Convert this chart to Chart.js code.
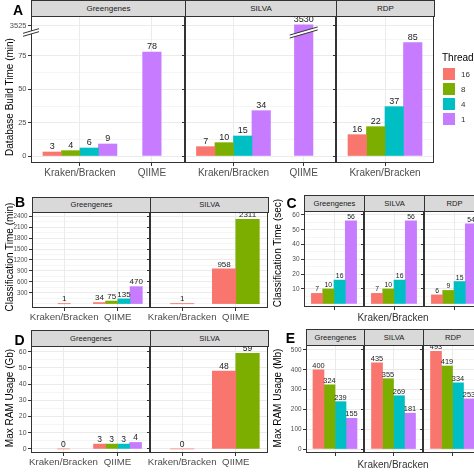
<!DOCTYPE html>
<html>
<head>
<meta charset="utf-8">
<script src="https://cdn.jsdelivr.net/npm/chart.js@4.4.1/dist/chart.umd.min.js"></script>
<style>
body { margin: 0; width: 474px; height: 474px; overflow: hidden; background: #fff; position: relative; font-family: "Liberation Sans", Arial, sans-serif; }
canvas { position: absolute; }
.strip { position: absolute; box-sizing: border-box; border: 1px solid #333; background: #d9d9d9; color: #1a1a1a; text-align: center; white-space: nowrap; overflow: hidden; }
.tag { position: absolute; font-weight: bold; font-size: 14px; transform: translate(-50%, -50%); }
.ytitle { position: absolute; font-size: 10px; white-space: nowrap; transform: translate(-50%, -50%) rotate(-90deg); }
.xtitle { position: absolute; font-size: 10px; color: #333; white-space: nowrap; transform: translate(-50%, -50%); }
.key { position: absolute; width: 12px; height: 12px; }
.keytxt { position: absolute; font-size: 8px; color: #333; transform: translateY(-50%); }
</style>
</head>
<body>
<script>
//<---------------- data ---------------->
const threads = ['16', '8', '4', '1'];
const threadColors = ['#F8766D', '#7CAE00', '#00BFC4', '#C77CFF'];
const databases = ['Greengenes', 'SILVA', 'RDP'];
const tools = ['Kraken/Bracken', 'QIIME'];

// A - database build time (min); one row per thread (16, 8, 4, 1), columns = tools
const buildGreengenes = [[3, null], [4, null], [6, null], [9, 78]];
const buildSilva = [[7, null], [10, null], [15, null], [34, 3530]];
const buildRdp = [[16], [22], [37], [85]];
const buildTicks = [0, 25, 50, 75, 3525];

// B - classification time (min)
const classMinGreengenes = [[1, 34], [null, 75], [null, 135], [null, 470]];
const classMinSilva = [[1, 958], [null, 2311], [null, null], [null, null]];
const classMinTicks = [300, 600, 900, 1200, 1500, 1800, 2100, 2400];

// C - Kraken/Bracken classification time (sec)
const classSecGreengenes = [[7], [10], [16], [56]];
const classSecSilva = [[7], [10], [16], [56]];
const classSecRdp = [[6], [9], [15], [54]];
const classSecTicks = [10, 20, 30, 40, 50, 60];

// D - max RAM usage (Gb)
const ramGbGreengenes = [[0, 3], [null, 3], [null, 3], [null, 4]];
const ramGbSilva = [[0, 48], [null, 59], [null, null], [null, null]];
const ramGbTicks = [0, 10, 20, 30, 40, 50, 60];

// E - Kraken/Bracken max RAM usage (Mb)
const ramMbGreengenes = [[400], [324], [239], [155]];
const ramMbSilva = [[435], [355], [269], [181]];
const ramMbRdp = [[493], [419], [334], [253]];
const ramMbTicks = [0, 100, 200, 300, 400, 500];

Chart.defaults.font.family = '"Liberation Sans", Arial, sans-serif';

//<---------------- y scale with a gap (for the 3530 QIIME bar) ---------------->
class BrokenScale extends Chart.LinearScale {
  getPixelForValue(value, index) {
    if (value !== null && value > 1000) value = 97.8 + (value - 3525) * 0.1;
    return super.getPixelForValue(value, index);
  }
}
BrokenScale.id = 'broken';
BrokenScale.defaults = Chart.LinearScale.defaults;
Chart.register(BrokenScale);

//<---------------- plugins ---------------->
const barLabels = {
  id: 'barLabels',
  afterDatasetsDraw(chart, args, opts) {
    const ctx = chart.ctx;
    ctx.save();
    ctx.font = opts.size + 'px "Liberation Sans", Arial, sans-serif';
    ctx.fillStyle = '#222';
    ctx.textAlign = 'center';
    ctx.textBaseline = 'bottom';
    chart.data.datasets.forEach((ds, i) => {
      chart.getDatasetMeta(i).data.forEach((bar, j) => {
        const v = ds.data[j];
        if (v === null || v === undefined) return;
        ctx.fillText(String(v), bar.x, bar.y - 0.5);
      });
    });
    ctx.restore();
  }
};

const panelBorder = {
  id: 'panelBorder',
  afterDraw(chart) {
    const a = chart.chartArea, ctx = chart.ctx;
    ctx.save();
    ctx.strokeStyle = '#333';
    ctx.lineWidth = 1;
    ctx.strokeRect(Math.round(a.left) + 0.5, Math.round(a.top) + 0.5,
      Math.round(a.right - a.left) - 1, Math.round(a.bottom - a.top) - 1);
    ctx.restore();
  }
};

function breakMark(onBar) {
  return {
    id: 'breakMark',
    afterDraw(chart) {
      const ctx = chart.ctx;
      const y = chart.scales.y.getPixelForValue(91.5);
      let cx, half;
      if (onBar) {
        cx = chart.getDatasetMeta(3).data[1].x;
        half = 14;
      } else {
        cx = chart.chartArea.left;
        half = 8;
      }
      const dy = half * 0.29;
      ctx.save();
      ctx.fillStyle = '#fff';
      ctx.beginPath();
      ctx.moveTo(cx - half, y + dy);
      ctx.lineTo(cx + half, y - dy);
      ctx.lineTo(cx + half, y - dy - 3);
      ctx.lineTo(cx - half, y + dy - 3);
      ctx.closePath();
      ctx.fill();
      ctx.strokeStyle = '#333';
      ctx.lineWidth = 1;
      [0, -3].forEach(o => {
        ctx.beginPath();
        ctx.moveTo(cx - half, y + dy + o);
        ctx.lineTo(cx + half, y - dy + o);
        ctx.stroke();
      });
      ctx.restore();
    }
  };
}

//<---------------- one facet = one chart ---------------->
const padX = 3, padT = 12, xH = 22;

function facet(o) {
  const yW = o.showY ? 30 : 0;
  const cv = document.createElement('canvas');
  cv.width = o.r - o.l + yW + 2 * padX;
  cv.height = o.b - o.t + padT + xH + 2;
  cv.style.left = (o.l - yW - padX) + 'px';
  cv.style.top = (o.t - padT) + 'px';
  document.body.appendChild(cv);

  const minor = [];
  for (let v = 0; v <= o.end; v += o.step) if (!o.major.includes(v)) minor.push(v);
  const yVals = o.major.concat(minor).sort((a, b) => a - b);
  const isMajor = v => o.major.includes(v);

  new Chart(cv, {
    type: 'bar',
    data: {
      labels: o.cats.map((c, i) => i + 1),
      datasets: o.rows.map((row, i) => ({
        label: threads[i],
        data: row,
        backgroundColor: threadColors[i],
        barThickness: o.barW,
        skipNull: true
      }))
    },
    options: {
      responsive: false,
      animation: false,
      layout: { padding: { left: padX, right: padX, top: padT, bottom: 2 } },
      plugins: {
        legend: { display: false },
        tooltip: { enabled: false },
        barLabels: { size: o.labelSize }
      },
      scales: {
        x: {
          type: 'linear', min: o.xmin, max: o.xmax, offset: false,
          afterBuildTicks: s => { s.ticks = o.cats.map((c, i) => ({ value: i + 1 })); },
          afterFit: s => { s.height = xH; s.paddingLeft = 0; s.paddingRight = 0; },
          grid: { offset: false, color: '#ebebeb', lineWidth: 1, tickLength: 3, tickColor: '#333' },
          border: { display: false },
          ticks: {
            display: o.showX, autoSkip: false, maxRotation: 0, minRotation: 0, padding: 1,
            color: '#4d4d4d', font: { size: o.xFont },
            callback: v => o.cats[v - 1]
          }
        },
        y: {
          type: o.yType || 'linear', min: o.min, max: o.max,
          afterBuildTicks: s => { s.ticks = yVals.map(v => ({ value: v })); },
          afterFit: s => { s.width = yW; s.paddingTop = 0; s.paddingBottom = 0; },
          grid: {
            color: '#ebebeb',
            lineWidth: c => (c.tick && !isMajor(c.tick.value)) ? 0.5 : 1,
            drawTicks: o.showY, tickLength: 3,
            tickColor: c => (c.tick && isMajor(c.tick.value)) ? '#333' : 'rgba(0,0,0,0)'
          },
          border: { display: false },
          ticks: {
            display: o.showY, autoSkip: false, padding: 1.5,
            color: '#4d4d4d', font: { size: o.yFont },
            callback: v => isMajor(v) ? String(v) : ''
          }
        }
      }
    },
    plugins: [barLabels, panelBorder].concat(o.extra || [])
  });

  const st = document.createElement('div');
  st.className = 'strip';
  st.textContent = o.strip;
  st.style.left = o.l + 'px';
  st.style.top = o.st + 'px';
  st.style.width = (o.r - o.l + 1) + 'px';
  st.style.height = (o.t - o.st + 1) + 'px';
  st.style.lineHeight = (o.t - o.st - 1) + 'px';
  st.style.fontSize = o.stripFont + 'px';
  document.body.appendChild(st);
}

function text(cls, str, x, y) {
  const d = document.createElement('div');
  d.className = cls;
  d.textContent = str;
  d.style.left = x + 'px';
  d.style.top = y + 'px';
  document.body.appendChild(d);
}

//<---------------- A: database build time ---------------->
const panelA = { t: 16, b: 163, st: 0, yType: 'broken', min: -5.25, max: 105, major: buildTicks, step: 12.5, end: 90,
  yFont: 7.5, xFont: 10, labelSize: 9, barW: 18.5, stripFont: 8, showX: true };
facet(Object.assign({}, panelA, { l: 31, r: 185, xmin: 0.32, xmax: 2.46, cats: tools, rows: buildGreengenes, strip: databases[0], showY: true, extra: [breakMark(false)] }));
facet(Object.assign({}, panelA, { l: 185, r: 336, xmin: 0.31, xmax: 2.46, cats: tools, rows: buildSilva, strip: databases[1], extra: [breakMark(true)] }));
facet(Object.assign({}, panelA, { l: 336, r: 434, xmin: 0.5, xmax: 1.5, cats: [tools[0]], rows: buildRdp, strip: databases[2] }));

//<---------------- B: classification time (min) ---------------->
const panelB = { t: 212, b: 308, st: 197, min: -115, max: 2514, major: classMinTicks, step: 150, end: 2400,
  yFont: 6.3, xFont: 9.7, labelSize: 8, stripFont: 7.6, showX: true, xmin: 0.4, xmax: 2.6, cats: tools };
facet(Object.assign({}, panelB, { l: 32, r: 150, rows: classMinGreengenes, barW: 12.25, strip: databases[0], showY: true }));
facet(Object.assign({}, panelB, { l: 150, r: 268, rows: classMinSilva, barW: 23.5, strip: databases[1] }));

//<---------------- C: classification time (sec) ---------------->
const panelC = { t: 211, b: 307, st: 195, min: -2.2, max: 62.7, major: classSecTicks, step: 5, end: 60,
  yFont: 6.5, xFont: 10, labelSize: 6.8, barW: 11.3, stripFont: 7.6, showX: false, xmin: 0.5, xmax: 1.5, cats: [tools[0]] };
facet(Object.assign({}, panelC, { l: 304, r: 364, rows: classSecGreengenes, strip: databases[0], showY: true }));
facet(Object.assign({}, panelC, { l: 364, r: 424, rows: classSecSilva, strip: databases[1] }));
facet(Object.assign({}, panelC, { l: 424, r: 484, rows: classSecRdp, strip: databases[2] }));

//<---------------- D: max RAM (Gb) ---------------->
const panelD = { t: 346, b: 453, st: 330, min: -2.5, max: 63.5, major: ramGbTicks, step: 5, end: 60,
  yFont: 6.9, xFont: 9.7, labelSize: 8.5, stripFont: 7.6, showX: true, xmin: 0.4, xmax: 2.6, cats: tools };
facet(Object.assign({}, panelD, { l: 31, r: 150, rows: ramGbGreengenes, barW: 12, strip: databases[0], showY: true }));
facet(Object.assign({}, panelD, { l: 150, r: 268, rows: ramGbSilva, barW: 23.5, strip: databases[1] }));

//<---------------- E: max RAM (Mb) ---------------->
const panelE = { t: 345, b: 453, st: 329, min: -20, max: 525, major: ramMbTicks, step: 50, end: 500,
  yFont: 6.4, xFont: 10, labelSize: 7.4, barW: 11, stripFont: 7.6, showX: false, xmin: 0.5, xmax: 1.5, cats: [tools[0]] };
facet(Object.assign({}, panelE, { l: 306, r: 364, rows: ramMbGreengenes, strip: databases[0], showY: true }));
facet(Object.assign({}, panelE, { l: 364, r: 423, rows: ramMbSilva, strip: databases[1] }));
facet(Object.assign({}, panelE, { l: 423, r: 482, rows: ramMbRdp, strip: databases[2] }));

//<---------------- titles, tags, legend ---------------->
text('tag', 'A', 18, 10);
text('tag', 'B', 20, 202);
text('tag', 'C', 291.5, 202.5);
text('tag', 'D', 19.5, 339.5);
text('tag', 'E', 290.5, 338);
text('ytitle', 'Database Build Time (min)', 9, 97);
text('ytitle', 'Classification Time (min)', 9, 257);
text('ytitle', 'Classification Time (sec)', 277, 253);
text('ytitle', 'Max RAM Usage (Gb)', 9, 398);
text('ytitle', 'Max RAM Usage (Mb)', 277, 398);
text('xtitle', tools[0], 393, 317);
text('xtitle', tools[0], 393, 464);

const lt = document.createElement('div');
lt.textContent = 'Threads';
lt.style.cssText = 'position:absolute;left:442px;top:52px;font-size:10px;white-space:nowrap;';
document.body.appendChild(lt);
threads.forEach((t, i) => {
  const k = document.createElement('div');
  k.className = 'key';
  k.style.left = '443px';
  k.style.top = (68 + 15 * i) + 'px';
  k.style.background = threadColors[i];
  document.body.appendChild(k);
  text('keytxt', t, 461, 74 + 15 * i);
});
</script>
</body>
</html>
